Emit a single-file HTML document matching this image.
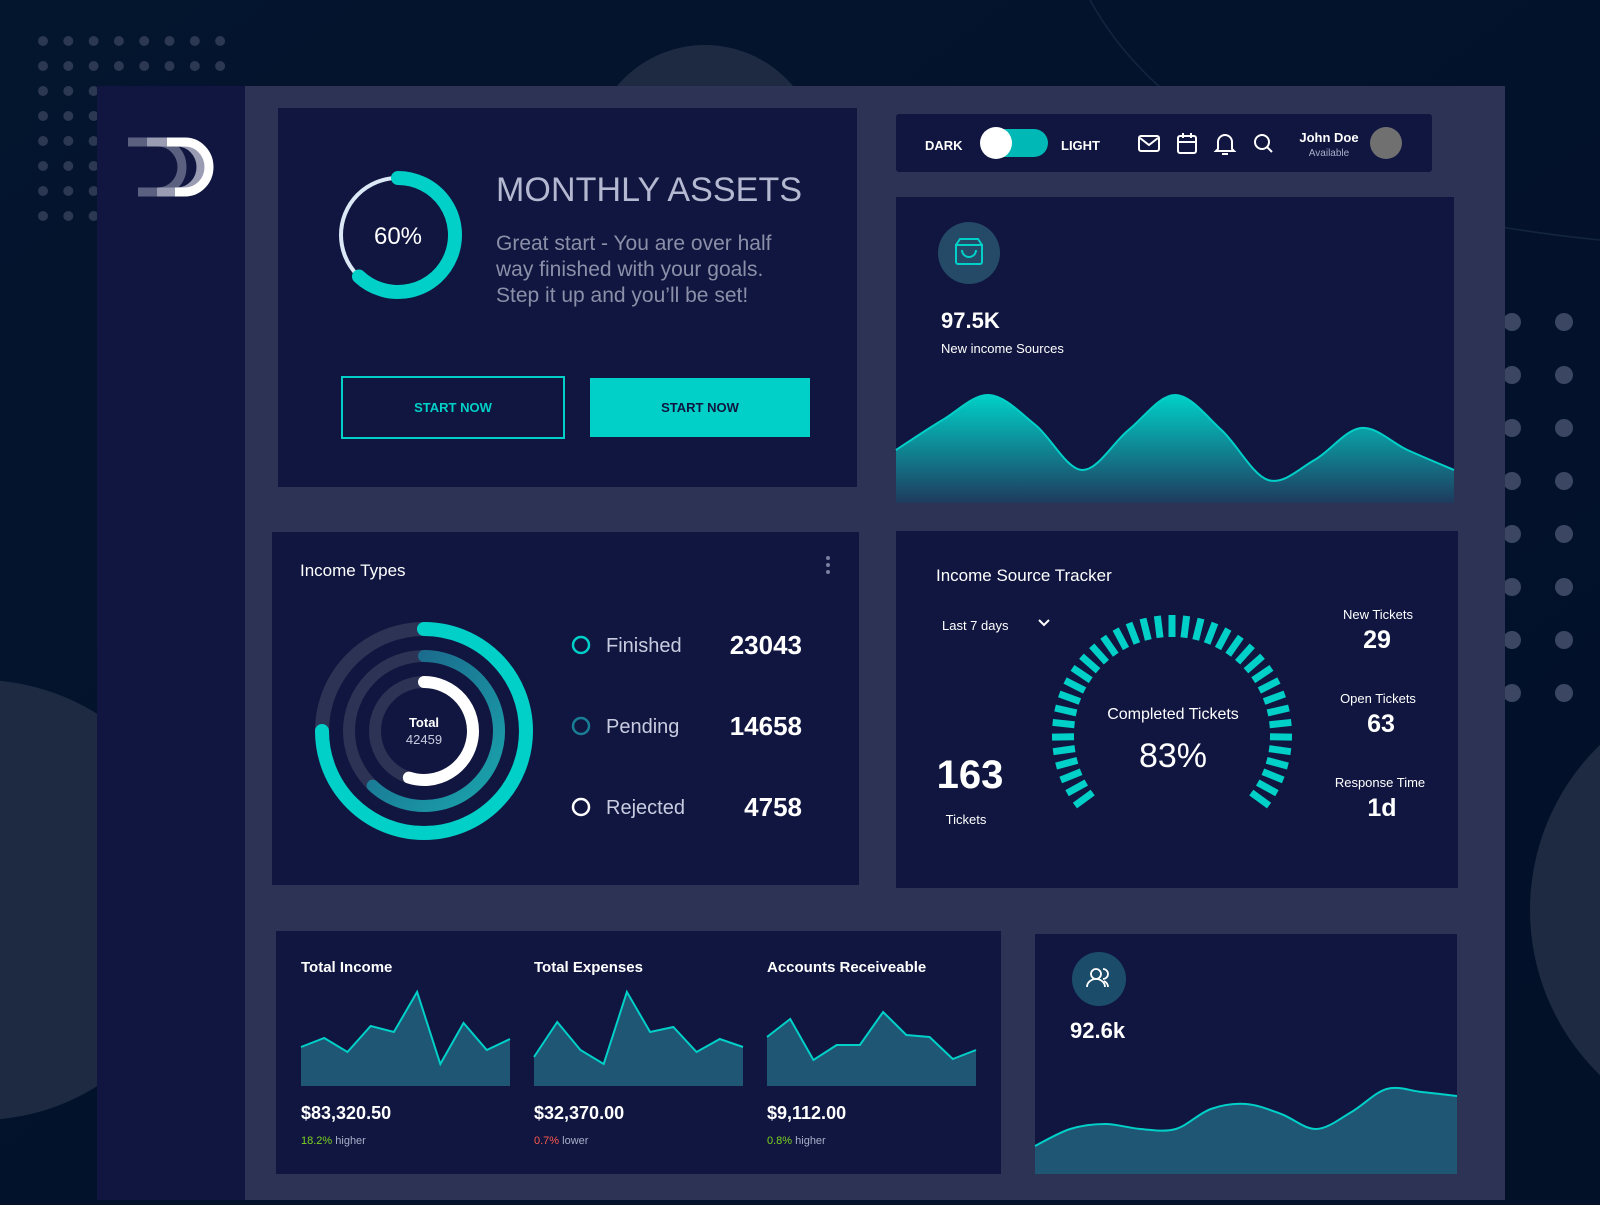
<!DOCTYPE html>
<html><head><meta charset="utf-8">
<style>
body{margin:0;width:1600px;height:1200px;overflow:hidden;background:#03112a;font-family:"Liberation Sans",sans-serif;}
svg text{font-family:"Liberation Sans",sans-serif;}
</style></head>
<body>
<svg id="s" width="1600" height="1200" viewBox="0 0 1600 1200" xmlns="http://www.w3.org/2000/svg">
<defs>
<linearGradient id="bg" x1="0" y1="0" x2="1" y2="1"><stop offset="0" stop-color="#04152e"/><stop offset="1" stop-color="#021028"/></linearGradient>
<linearGradient id="areaG" x1="0" y1="0" x2="0" y2="1"><stop offset="0" stop-color="#00d0c8"/><stop offset="1" stop-color="#1e3b5e"/></linearGradient>
<linearGradient id="midG" x1="0" y1="0" x2="1" y2="1"><stop offset="0" stop-color="#1b5f86"/><stop offset="1" stop-color="#1aa6ae"/></linearGradient>
</defs>
<rect width="1600" height="1200" fill="url(#bg)"/>
<circle cx="-20" cy="900" r="220" fill="#1d2a42"/>
<circle cx="1760" cy="910" r="230" fill="#1d2a42"/>
<circle cx="705" cy="160" r="115" fill="#1d2a42"/>
<path d="M1090 0 Q1200 200 1600 240" stroke="#142540" fill="none" stroke-width="1.5"/>
<g id="dots"></g>
<rect x="97" y="86" width="1408" height="1114" fill="#2d3354"/>
<rect x="97" y="86" width="148" height="1114" fill="#10163f"/>
<g>
<path d="M128 142 h30 a24 25 0 0 1 0 50 h-20" stroke="#5c6080" stroke-width="9" fill="none"/>
<path d="M147 142 h30 a24 25 0 0 1 0 50 h-20" stroke="#9a9cb3" stroke-width="9" fill="none"/>
<path d="M167 142 h18 a24 25 0 0 1 0 50 h-10" stroke="#fff" stroke-width="9" fill="none"/>
</g>

<!-- monthly assets card -->
<rect x="278" y="108" width="579" height="379" fill="#10163f"/>
<g id="assetDonut"></g>
<text x="398" y="244" fill="#fff" font-size="24" text-anchor="middle">60%</text>
<text x="496" y="201" fill="#b4b8d0" font-size="34" textLength="306" lengthAdjust="spacing">MONTHLY ASSETS</text>
<text fill="#8b8fa8" font-size="21"><tspan x="496" y="250">Great start - You are over half</tspan><tspan x="496" y="276">way finished with your goals.</tspan><tspan x="496" y="302">Step it up and you’ll be set!</tspan></text>
<rect x="342" y="377" width="222" height="61" fill="none" stroke="#00d0c8" stroke-width="2"/>
<text x="453" y="412" fill="#00d0c8" font-size="13" font-weight="bold" text-anchor="middle">START NOW</text>
<rect x="590" y="378" width="220" height="59" fill="#00d0c8"/>
<text x="700" y="412" fill="#10163f" font-size="13" font-weight="bold" text-anchor="middle">START NOW</text>

<!-- header bar -->
<rect x="896" y="114" width="536" height="58" rx="3" fill="#10163f"/>
<text x="925" y="150" fill="#fff" font-size="13" font-weight="bold">DARK</text>
<rect x="981" y="129" width="67" height="28" rx="14" fill="#00b8b5"/>
<circle cx="996" cy="143" r="16" fill="#fff"/>
<text x="1061" y="150" fill="#fff" font-size="13" font-weight="bold">LIGHT</text>
<g stroke="#fff" stroke-width="2" fill="none">
<g><rect x="1139" y="136" width="20" height="15" rx="2"/><path d="M1140 138 l9 7 l9-7"/></g>
<g><rect x="1178" y="136" width="18" height="17" rx="2"/><path d="M1178 142 h18 M1183 133 v5 M1191 133 v5"/></g>
<g><path d="M1218 149 v-7 a7 7 0 0 1 14 0 v7 l2 2 h-18 z M1222 154 h6"/></g>
<g><circle cx="1262" cy="142" r="7"/><path d="M1267 147 l5 5"/></g>
</g>
<text x="1329" y="142" fill="#fff" font-size="13" font-weight="bold" text-anchor="middle">John Doe</text>
<text x="1329" y="156" fill="#a9aec8" font-size="10" text-anchor="middle">Available</text>
<circle cx="1386" cy="143" r="16" fill="#707070"/>

<!-- income sources card -->
<rect x="896" y="197" width="558" height="306" fill="#10163f"/>
<circle cx="969" cy="253" r="31" fill="#254a68"/>
<path d="M956 245 h26 v17 a2 2 0 0 1 -2 2 h-22 a2 2 0 0 1 -2 -2 z M956 245 l4 -6 h18 l4 6 M962 250 a7 7 0 0 0 14 0" stroke="#00d0c8" stroke-width="2" fill="none"/>
<text x="941" y="328" fill="#fff" font-size="22" font-weight="bold">97.5K</text>
<text x="941" y="353" fill="#fff" font-size="13">New income Sources</text>
<g id="incomeArea"></g>

<!-- income types card -->
<rect x="272" y="532" width="587" height="353" fill="#10163f"/>
<text x="300" y="576" fill="#fff" font-size="17">Income Types</text>
<g fill="#7a7fa0"><circle cx="828" cy="558" r="2"/><circle cx="828" cy="565" r="2"/><circle cx="828" cy="572" r="2"/></g>
<g id="rings"></g>
<text x="424" y="727" fill="#fff" font-size="13" font-weight="bold" text-anchor="middle">Total</text>
<text x="424" y="744" fill="#c9cce0" font-size="13" text-anchor="middle">42459</text>
<g id="legend"></g>

<!-- tracker card -->
<rect x="896" y="531" width="562" height="357" fill="#10163f"/>
<text x="936" y="581" fill="#fff" font-size="17">Income Source Tracker</text>
<text x="942" y="630" fill="#fff" font-size="13">Last 7 days</text>
<path d="M1039 620 l5 5 l5 -5" stroke="#fff" stroke-width="2" fill="none"/>
<g id="gauge"></g>
<text x="1173" y="719" fill="#fff" font-size="16" text-anchor="middle">Completed Tickets</text>
<text x="1173" y="767" fill="#fff" font-size="34" text-anchor="middle">83%</text>
<text x="970" y="788" fill="#fff" font-size="40" font-weight="bold" text-anchor="middle">163</text>
<text x="966" y="824" fill="#fff" font-size="13" text-anchor="middle">Tickets</text>
<g fill="#fff" text-anchor="middle">
<text x="1378" y="619" font-size="13">New Tickets</text><text x="1377" y="648" font-size="25" font-weight="bold">29</text>
<text x="1378" y="703" font-size="13">Open Tickets</text><text x="1381" y="732" font-size="25" font-weight="bold">63</text>
<text x="1380" y="787" font-size="13">Response Time</text><text x="1382" y="816" font-size="25" font-weight="bold">1d</text>
</g>

<!-- bottom summary -->
<rect x="276" y="931" width="725" height="243" fill="#10163f"/>
<g id="sparks"></g>
<rect x="1035" y="934" width="422" height="240" fill="#10163f"/>
<circle cx="1099" cy="979" r="27" fill="#1b4c6a"/>
<g stroke="#fff" stroke-width="1.8" fill="none"><circle cx="1096" cy="974" r="5"/><path d="M1087 987 a9 8 0 0 1 18 0 M1103 969 a5 5 0 0 1 0 10 M1108 987 a8 7 0 0 0 -4 -6"/></g>
<text x="1070" y="1038" fill="#fff" font-size="22" font-weight="bold">92.6k</text>
<g id="usersArea"></g>
</svg>
<script>
// ---- data ----
const incomeValues=[53,83,108,78,33,73,108,73,23,43,75,53,33];
const assetPercent=[0.62];
const ringFractions=[0.75,0.62,0.55];
const legendLabels=["Finished","Pending","Rejected"];
const legendValues=["23043","14658","4758"];
const gaugeTickCount=[37];
const gaugePercent=[83];
const sparkTitles=["Total Income","Total Expenses","Accounts Receiveable"];
const sparkIncome=[39,48,34,60,54,94,22,63,36,47];
const sparkExpenses=[29,64,36,22,94,54,59,34,47,39];
const sparkReceivable=[49,67,26,41,41,74,51,49,27,36];
const sparkAmounts=["$83,320.50","$32,370.00","$9,112.00"];
const sparkChange=["18.2%","0.7%","0.8%"];
const sparkDir=[" higher"," lower"," higher"];
const usersValues=[28,45,50,45,45,65,70,60,45,62,85,82,78];

const NS="http://www.w3.org/2000/svg";
function mk(tag,attrs,parent){const e=document.createElementNS(NS,tag);for(const k in attrs)e.setAttribute(k,attrs[k]);parent.appendChild(e);return e;}
function smooth(pts){let d="M"+pts[0][0]+" "+pts[0][1];for(let i=0;i<pts.length-1;i++){const p0=pts[i-1]||pts[i],p1=pts[i],p2=pts[i+1],p3=pts[i+2]||p2;const c1=[p1[0]+(p2[0]-p0[0])/6,p1[1]+(p2[1]-p0[1])/6],c2=[p2[0]-(p3[0]-p1[0])/6,p2[1]-(p3[1]-p1[1])/6];d+=" C"+c1+" "+c2+" "+p2;}return d;}

// dots
const dg=document.getElementById('dots');
for(let r=0;r<8;r++)for(let c=0;c<8;c++){const d=mk('circle',{cx:43+c*25.3,cy:41+r*25,r:5,fill:'#2c3852'},dg);}
for(let r=0;r<8;r++)for(let c=0;c<2;c++){const d=mk('circle',{cx:1512+c*52,cy:322+r*53,r:9,fill:'#3a4662'},dg);}

// area chart helper
function area(gid,vals,x0,x1,base,scale,fill,stroke){const g=document.getElementById(gid);const n=vals.length;const pts=vals.map((v,i)=>[x0+(x1-x0)*i/(n-1),base-v*scale]);const line=smooth(pts);
const a=mk('path',{d:line+" L"+x1+" "+base+" L"+x0+" "+base+" Z",fill:fill},g);
const l=mk('path',{d:line,fill:'none',stroke:stroke,'stroke-width':2},g);}
area('incomeArea',incomeValues,896,1454,503,1.0,'url(#areaG)','#00d0c8');
area('usersArea',usersValues,1035,1457,1174,1.0,'#1e5674','#00d0c8');

// arcs
function arcPath(cx,cy,r,f){const a=f*2*Math.PI;const x=cx+r*Math.sin(a),y=cy-r*Math.cos(a);return `M${cx} ${cy-r} A${r} ${r} 0 ${f>0.5?1:0} 1 ${x} ${y}`;}
const ad=document.getElementById('assetDonut');
mk('circle',{cx:398,cy:235,r:57,fill:'none',stroke:'#dbe8f5','stroke-width':4},ad);
const aa=mk('path',{d:arcPath(398,235,57,assetPercent[0]),fill:'none',stroke:'#00d0c8','stroke-width':14,'stroke-linecap':'round'},ad);


const rg=document.getElementById('rings');
const radii=[102,75,49],widths=[14,12,12],cols=['#00d0c8','url(#midG)','#ffffff'],tracks=['#2d3354','#2d3354','#2d3354'];
ringFractions.forEach((f,i)=>{mk('circle',{cx:424,cy:731,r:radii[i],fill:'none',stroke:tracks[i],'stroke-width':widths[i]},rg);
const p=mk('path',{d:arcPath(424,731,radii[i],f),fill:'none',stroke:cols[i],'stroke-width':widths[i],'stroke-linecap':'round'},rg);
});

const lg=document.getElementById('legend');
const lcols=['#00d0c8','#1a7d96','#ffffff'];
legendLabels.forEach((t,i)=>{const y=[645,726,807][i];
const c=mk('circle',{cx:581,cy:y,r:8,fill:'none',stroke:lcols[i],'stroke-width':2.5},lg);
const a=mk('text',{x:606,y:y+7,fill:'#c9cce0','font-size':20},lg);a.textContent=t;
const b=mk('text',{x:802,y:y+9,fill:'#fff','font-size':26,'font-weight':'bold','text-anchor':'end'},lg);b.textContent=legendValues[i];});

// gauge
const gg=document.getElementById('gauge');
const N=gaugeTickCount[0],lit=Math.round(N*Math.min(1,gaugePercent[0]/83));
for(let i=0;i<N;i++){const ang=(-126+252*i/(N-1))*Math.PI/180;const cx=1172,cy=735,r1=98,r2=120;
const t=mk('line',{x1:cx+r1*Math.sin(ang),y1:cy-r1*Math.cos(ang),x2:cx+r2*Math.sin(ang),y2:cy-r2*Math.cos(ang),stroke:i<lit?'#00d0c8':'#2d3354','stroke-width':7},gg);
}

// sparklines
const sg=document.getElementById('sparks');
[sparkIncome,sparkExpenses,sparkReceivable].forEach((vals,k)=>{const x0=301+k*233,x1=x0+209,base=1086;
const t=mk('text',{x:x0,y:972,fill:'#fff','font-size':15,'font-weight':'bold'},sg);t.textContent=sparkTitles[k];
const pts=vals.map((v,i)=>[x0+(x1-x0)*i/(vals.length-1),base-v]);
let d="M"+pts.map(p=>p.join(" ")).join(" L");
const a=mk('path',{d:d+` L${x1} ${base} L${x0} ${base} Z`,fill:'#1e5674'},sg);
const l=mk('path',{d:d,fill:'none',stroke:'#00d0c8','stroke-width':2},sg);
const m=mk('text',{x:x0,y:1119,fill:'#fff','font-size':18,'font-weight':'bold'},sg);m.textContent=sparkAmounts[k];
const c=mk('text',{x:x0,y:1144,'font-size':11,fill:'#a9aec8'},sg);
const s1=mk('tspan',{fill:k==1?'#ff5a4e':'#7ed321'},c);s1.textContent=sparkChange[k];const s2=mk('tspan',{},c);s2.textContent=sparkDir[k];});
</script>
</body></html>
